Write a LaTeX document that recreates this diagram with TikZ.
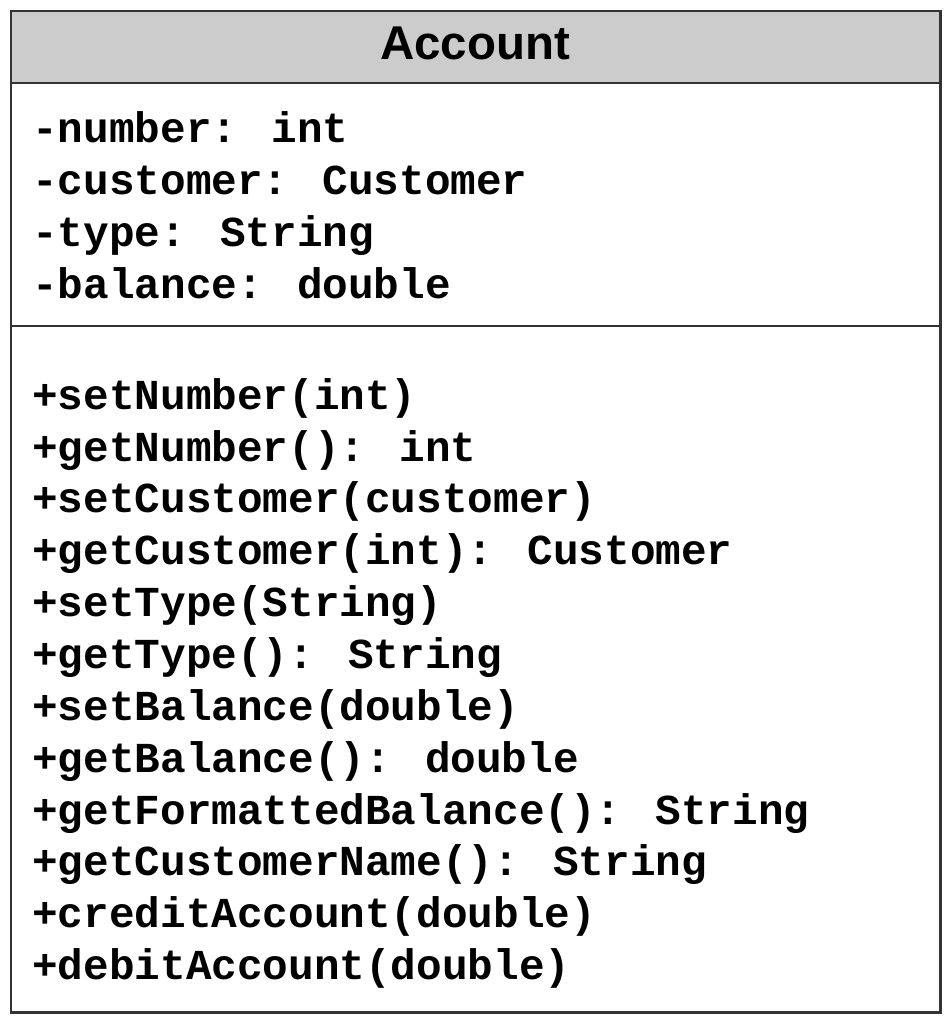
\documentclass[tikz,border=0pt]{standalone}
\usepackage{fontspec}
\usepackage{xcolor}
\usepackage{tikz}
\usetikzlibrary{positioning}

\newfontfamily\umlmono{Liberation Mono}
\newfontfamily\umlsans{Liberation Sans}
\definecolor{headgray}{HTML}{CCCCCC}
\definecolor{framegray}{HTML}{333333}

\tikzset{
  member/.style={anchor=base west, inner sep=0pt, font=\umlmono\bfseries\fontsize{24.3pt}{26pt}\selectfont},
  classname/.style={anchor=base, inner sep=0pt, font=\umlsans\bfseries\fontsize{27pt}{29pt}\selectfont},
}

\begin{document}
\begin{tikzpicture}[x=0.02cm,y=-0.02cm]
\useasboundingbox (0,0) rectangle (947,1024);

\fill [headgray] (11,11) rectangle (940,83);
\draw [framegray,line width=1.7pt] (11,11) rectangle (940,1012);
\draw [framegray,line width=1.2pt] (11,83) -- (940,83);
\draw [framegray,line width=1.2pt] (11,326) -- (940,326);

\node [classname] (title) at (475,60) {Account};

\node [member] (a1) at (32,142) {-number: int};
\node [member] (a2) at (32,194) {-customer: Customer};
\node [member] (a3) at (32,246) {-type: String};
\node [member] (a4) at (32,298) {-balance: double};

\node [member] (m1) at (32,409) {+setNumber(int)};
\node [member] (m2) at (32,461) {+getNumber(): int};
\node [member] (m3) at (32,512) {+setCustomer(customer)};
\node [member] (m4) at (32,564) {+getCustomer(int): Customer};
\node [member] (m5) at (32,616) {+setType(String)};
\node [member] (m6) at (32,668) {+getType(): String};
\node [member] (m7) at (32,720) {+setBalance(double)};
\node [member] (m8) at (32,772) {+getBalance(): double};
\node [member] (m9) at (32,824) {+getFormattedBalance(): String};
\node [member] (m10) at (32,875) {+getCustomerName(): String};
\node [member] (m11) at (32,927) {+creditAccount(double)};
\node [member] (m12) at (32,979) {+debitAccount(double)};

\end{tikzpicture}
\end{document}
